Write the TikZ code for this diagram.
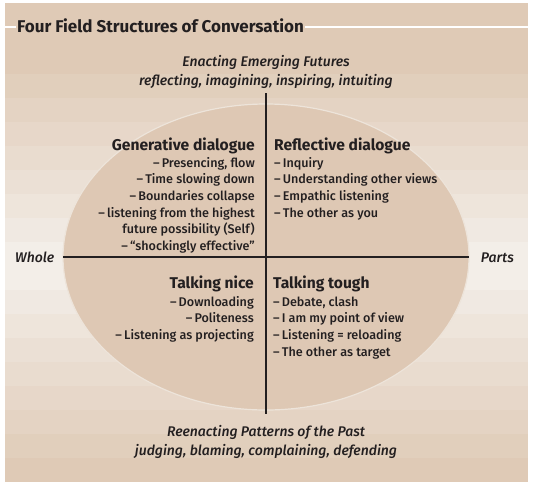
\documentclass[tikz,border=0pt]{standalone}
\usepackage{fontspec}
\setmainfont{Fira Sans}
\newfontfamily\medfont{Fira Sans Medium}
\newfontfamily\meditfont{Fira Sans Medium Italic}
\definecolor{bandc}{RGB}{223,202,182}
\definecolor{lightc}{RGB}{244,240,235}
\definecolor{ellc}{RGB}{222,200,180}
\definecolor{inkc}{RGB}{35,31,32}
\begin{document}
\begin{tikzpicture}[x=1pt,y=-1pt,
  every node/.style={text=inkc, inner sep=0pt},
  titletext/.style={font=\bfseries\fontsize{17}{19}\selectfont, anchor=base west, fill=bandc, inner xsep=1pt, inner ysep=2pt},
  itext/.style={font=\meditfont\fontsize{14}{16}\selectfont, anchor=base},
  headtext/.style={font=\bfseries\fontsize{15.6}{17}\selectfont},
  bodytext/.style={font=\medfont\fontsize{12.6}{15}\selectfont},
  axisline/.style={draw=inkc, line width=1.6pt}]
\useasboundingbox (0,0) rectangle (534,485);
% background
\fill[bandc] (5,3) rectangle (528,50);
\draw[white, line width=1.2pt] (5,27) -- (528,27);
\foreach \i in {0,...,17} {
  \pgfmathsetmacro\d{abs(\i-8.5)/8.5*100}
  \fill[bandc!\d!lightc] (5,50+24*\i) rectangle (528,74+24*\i);
}
% ellipse
\fill[ellc, draw=lightc!70!ellc, line width=1.2pt] (266,257) ellipse [x radius=203pt, y radius=153pt];
% axes
\coordinate (top) at (266,93);
\coordinate (bot) at (266,414);
\coordinate (lft) at (63,257);
\coordinate (rgt) at (469,257);
\draw[axisline] (top) -- (bot);
\draw[axisline] (lft) -- (rgt);
% title
\node[titletext] (title) at (16,32) {Four Field Structures of Conversation};
% top / bottom / side labels
\node[itext] (fut1) at (266,66) {Enacting Emerging Futures};
\node[itext] (fut2) at (266,85) {reflecting, imagining, inspiring, intuiting};
\node[itext] (past1) at (266,436) {Reenacting Patterns of the Past};
\node[itext] (past2) at (266,455) {judging, blaming, complaining, defending};
\node[itext, anchor=base west] (whole) at (15,262) {Whole};
\node[itext, anchor=base east] (parts) at (514,262) {Parts};
% quadrant: generative
\node[headtext, anchor=base east] (genh) at (255,150) {Generative dialogue};
\foreach \t [count=\k] in {{–\,Presencing, flow}, –\,Time slowing down, –\,Boundaries collapse, –\,listening from the highest, future possibility (Self), –\,“shockingly effective”}
  \node[bodytext, anchor=base east] (gen\k) at (255,{167+16.7*(\k-1)}) {\t};
% quadrant: reflective
\node[headtext, anchor=base west] (refh) at (274,150) {Reflective dialogue};
\foreach \t [count=\k] in {–\,Inquiry, –\,Understanding other views, –\,Empathic listening, –\,The other as you}
  \node[bodytext, anchor=base west] (ref\k) at (274,{167+16.7*(\k-1)}) {\t};
% quadrant: nice
\node[headtext, anchor=base east] (niceh) at (254,288) {Talking nice};
\foreach \t [count=\k] in {–\,Downloading, –\,Politeness, –\,Listening as projecting}
  \node[bodytext, anchor=base east] (nice\k) at (254,{306+16.7*(\k-1)}) {\t};
% quadrant: tough
\node[headtext, anchor=base west] (toughh) at (273,288) {Talking tough};
\foreach \t [count=\k] in {{–\,Debate, clash}, –\,I am my point of view, –\,Listening = reloading, –\,The other as target}
  \node[bodytext, anchor=base west] (tough\k) at (273,{306+16.7*(\k-1)}) {\t};
\end{tikzpicture}
\end{document}
